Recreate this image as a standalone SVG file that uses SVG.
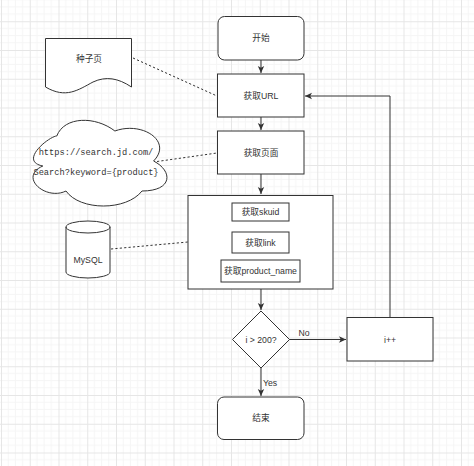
<svg xmlns="http://www.w3.org/2000/svg" width="474" height="466" viewBox="0 0 474 466">
<style>
.s{fill:#fff;stroke:#333;stroke-width:1}
.t{font-family:"Liberation Sans","Noto Sans CJK SC",sans-serif;font-size:8.7px;fill:#333;text-anchor:middle;dominant-baseline:central}
.m{font-family:"Liberation Mono","DejaVu Sans Mono",monospace;font-size:8.7px;fill:#333;text-anchor:middle;dominant-baseline:central}
.c{fill:none;stroke:#333;stroke-width:1}
.d{fill:none;stroke:#333;stroke-width:1;stroke-dasharray:2.2 2.2}
</style>
<defs>
<pattern id="grid" patternUnits="userSpaceOnUse" x="1" y="21.25" width="28.75" height="28.75">
<path d="M7.19 0V28.75M14.375 0V28.75M21.56 0V28.75M0 7.19H28.75M0 14.375H28.75M0 21.56H28.75" stroke="#f5f5f5" stroke-width="1" fill="none"/>
<path d="M0.5 0V28.75M0 0.5H28.75" stroke="#e6e6e6" stroke-width="1" fill="none"/>
</pattern>
<marker id="arr" markerWidth="8" markerHeight="8" viewBox="0 0 8 8" refX="7" refY="4" orient="auto" markerUnits="userSpaceOnUse">
<path d="M0,0.8 L7,4 L0,7.2 L1.8,4 Z" fill="#333"/>
</marker>
</defs>
<rect width="474" height="466" fill="#fff"/>
<rect width="474" height="466" fill="url(#grid)"/>

<g id="connectors">
<path class="c" d="M261 60V73" marker-end="url(#arr)"/>
<path class="c" d="M261 117V130" marker-end="url(#arr)"/>
<path class="c" d="M261 174V194" marker-end="url(#arr)"/>
<path class="c" d="M261 289V310" marker-end="url(#arr)"/>
<path class="c" d="M289 339.5H346" marker-end="url(#arr)"/>
<path class="c" d="M261 368V396" marker-end="url(#arr)"/>
<path class="c" d="M390 317V96H305" marker-end="url(#arr)"/>
<path class="d" d="M133 58L217 96"/>
<path class="d" d="M157 161.5L217 153"/>
<path class="d" d="M111 249L188 242"/>
<text class="t" x="304" y="333">No</text>
<text class="t" x="270" y="383">Yes</text>
</g>

<g id="start">
<rect class="s" x="218" y="16.5" width="86" height="43.5" rx="6.5"/>
<text class="t" x="261" y="38">开始</text>
</g>
<g id="get-url">
<rect class="s" x="217.5" y="74" width="86.5" height="43"/>
<text class="t" x="261" y="96">获取URL</text>
</g>
<g id="get-page">
<rect class="s" x="217.5" y="131" width="86.5" height="43"/>
<text class="t" x="261" y="153">获取页面</text>
</g>
<g id="extract">
<rect class="s" x="188" y="195.5" width="145" height="93.5"/>
</g>
<g id="get-skuid">
<rect class="s" x="232" y="203" width="57" height="18"/>
<text class="t" x="260.5" y="212">获取skuid</text>
</g>
<g id="get-link">
<rect class="s" x="232" y="232" width="57" height="21"/>
<text class="t" x="260.5" y="243">获取link</text>
</g>
<g id="get-product-name">
<rect class="s" x="221" y="260" width="79" height="22"/>
<text class="t" x="260.5" y="271">获取product_name</text>
</g>
<g id="decision">
<path class="s" d="M261 311L289.5 339.5L261 368L232.5 339.5Z"/>
<text class="t" x="261" y="340">i &gt; 200?</text>
</g>
<g id="increment">
<rect class="s" x="347" y="317.5" width="86" height="43.5"/>
<text class="t" x="390" y="339.5">i++</text>
</g>
<g id="end">
<rect class="s" x="217.5" y="397" width="86.5" height="42.5" rx="6.5"/>
<text class="t" x="261" y="418">结束</text>
</g>
<g id="seed-page">
<path class="s" d="M45.5 38.5H131.5V87C118 78 106 76 93 82C78 90 66 99 45.5 87Z"/>
<text class="t" x="89" y="59">种子页</text>
</g>
<g id="url-cloud">
<path class="s" d="M56.75 136C49.8 136 18 161 42.8 166C18 177 45.9 201 66 191C80 211 126.5 211 142 191C173 191 173 171 153.6 161C173 141 142 121 114.9 131C95.5 116 64.5 116 56.75 136Z"/>
<text class="m" x="96" y="153">https://search.jd.com/</text>
<text class="m" x="96" y="173">Search?keyword={product}</text>
</g>
<g id="mysql">
<path class="s" d="M66 227V272A22 6 0 0 0 110 272V227A22 6 0 0 0 66 227Z"/>
<path class="c" d="M66 227A22 6 0 0 0 110 227"/>
<text class="t" x="88" y="260">MySQL</text>
</g>
</svg>
